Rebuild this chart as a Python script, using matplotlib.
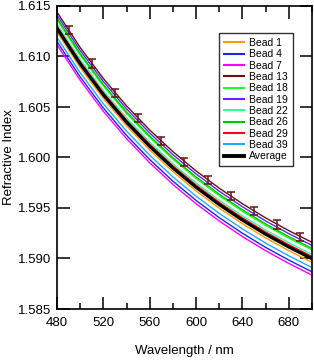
import matplotlib
matplotlib.use("Agg")
import matplotlib.pyplot as plt
from matplotlib.ticker import MultipleLocator, FormatStrFormatter

plt.rcParams['font.family'] = ['Liberation Sans', 'DejaVu Sans']

wavelength = [480, 500, 520, 540, 560, 580, 600, 620, 640, 660, 680, 700]

bead1  = [1.61242, 1.60891, 1.60584, 1.60313, 1.60074, 1.59860, 1.59669, 1.59498, 1.59344, 1.59204, 1.59078, 1.58962]
bead4  = [1.61148, 1.60797, 1.60490, 1.60219, 1.59980, 1.59766, 1.59575, 1.59404, 1.59250, 1.59110, 1.58984, 1.58868]
bead7  = [1.61115, 1.60764, 1.60457, 1.60186, 1.59947, 1.59733, 1.59542, 1.59371, 1.59217, 1.59077, 1.58951, 1.58835]
bead13 = [1.61440, 1.61089, 1.60782, 1.60511, 1.60272, 1.60058, 1.59867, 1.59696, 1.59542, 1.59402, 1.59276, 1.59160]
bead18 = [1.61365, 1.61014, 1.60707, 1.60436, 1.60197, 1.59983, 1.59792, 1.59621, 1.59467, 1.59327, 1.59201, 1.59085]
bead19 = [1.61410, 1.61059, 1.60752, 1.60481, 1.60242, 1.60028, 1.59837, 1.59666, 1.59512, 1.59372, 1.59246, 1.59130]
bead22 = [1.61320, 1.60969, 1.60662, 1.60391, 1.60152, 1.59938, 1.59747, 1.59576, 1.59422, 1.59282, 1.59156, 1.59040]
bead26 = [1.61380, 1.61029, 1.60722, 1.60451, 1.60212, 1.59998, 1.59807, 1.59636, 1.59482, 1.59342, 1.59216, 1.59100]
bead29 = [1.61300, 1.60949, 1.60642, 1.60371, 1.60132, 1.59918, 1.59727, 1.59556, 1.59402, 1.59262, 1.59136, 1.59020]
bead39 = [1.61190, 1.60839, 1.60532, 1.60261, 1.60022, 1.59808, 1.59617, 1.59446, 1.59292, 1.59152, 1.59026, 1.58910]
average = [1.61278, 1.60927, 1.60620, 1.60349, 1.60110, 1.59896, 1.59705, 1.59534, 1.59380, 1.59240, 1.59114, 1.58998]

err_wavelength = [490, 510, 530, 550, 570, 590, 610, 630, 650, 670, 690]
err_value = [1.61259, 1.60931, 1.60642, 1.60388, 1.60162, 1.59960, 1.59780, 1.59617, 1.59470, 1.59337, 1.59217]
err_size = [0.0004] * 11

labels = ['Bead 1', 'Bead 4', 'Bead 7', 'Bead 13', 'Bead 18', 'Bead 19',
          'Bead 22', 'Bead 26', 'Bead 29', 'Bead 39']
series = [bead1, bead4, bead7, bead13, bead18, bead19, bead22, bead26, bead29, bead39]
colors = ['#ff9900', '#2222ee', '#ff00ff', '#641414', '#22ff22', '#6622ff',
          '#33ff99', '#00c400', '#ff0022', '#22aaff']

fig = plt.figure(figsize=(3.14, 3.60), dpi=100)
ax = fig.add_axes([57/314, 1-309/360, 255/314, 303/360])

for lab, s, c in zip(labels, series, colors):
    ax.plot(wavelength, s, color=c, lw=1.0, label=lab)
ax.plot(wavelength, average, color='black', lw=2.3, label='Average')
ax.errorbar(err_wavelength, err_value, yerr=err_size, fmt='none',
            ecolor='#641414', elinewidth=1.1, capsize=2.6, capthick=1.1)

ax.set_xlim(480, 700)
ax.set_ylim(1.585, 1.615)
ax.xaxis.set_major_locator(MultipleLocator(40))
ax.xaxis.set_minor_locator(MultipleLocator(20))
ax.yaxis.set_major_locator(MultipleLocator(0.005))
ax.yaxis.set_major_formatter(FormatStrFormatter('%.3f'))

ax.tick_params(which='both', direction='in', top=True, right=True,
               width=1.1, labelsize=9.5, colors='black')
ax.tick_params(which='major', length=9)
ax.tick_params(which='minor', length=4.5)
ax.tick_params(axis='y', which='major', pad=4)
ax.tick_params(axis='x', which='major', pad=6)
for sp in ax.spines.values():
    sp.set_linewidth(1.2)

ax.set_xlabel('Wavelength / nm', fontsize=9.5, labelpad=11)
ax.set_ylabel('Refractive Index', fontsize=9.5, labelpad=2)

leg = ax.legend(loc='upper right', bbox_to_anchor=(0.924, 0.910), fontsize=7.5,
                frameon=True, fancybox=False, edgecolor='black',
                handlelength=2.0, handletextpad=0.45, labelspacing=0.13,
                borderpad=0.45, borderaxespad=0)
leg.get_frame().set_linewidth(1.0)
for line in leg.get_lines():
    if line.get_label() != 'Average':
        line.set_linewidth(1.5)
    else:
        line.set_linewidth(2.8)

fig.savefig('out.png', dpi=100)
